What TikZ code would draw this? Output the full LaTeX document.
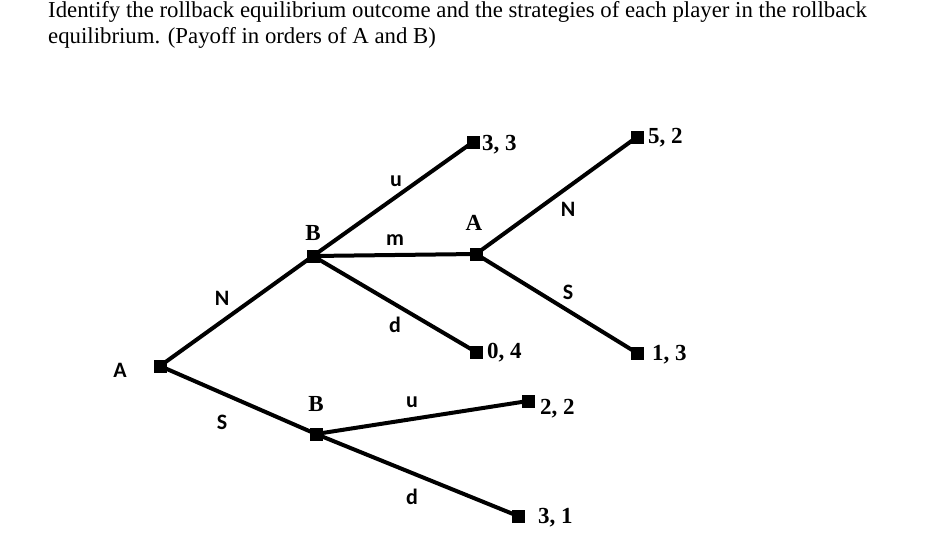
\documentclass[tikz,border=0pt]{standalone}
\usepackage{fontspec}
\setmainfont{Liberation Serif}
\setsansfont{Carlito}
\begin{document}
\begin{tikzpicture}[x=1pt,y=-1pt,
  sq/.style={fill=black,minimum size=13pt,inner sep=0pt,outer sep=0pt},
  br/.style={line width=4pt},
  el/.style={font=\sffamily\bfseries\fontsize{22}{24}\selectfont,inner sep=1pt},
  pay/.style={font=\bfseries\fontsize{23}{25}\selectfont,anchor=west,inner sep=0pt},
  pl/.style={font=\bfseries\fontsize{23}{25}\selectfont,inner sep=0pt}]
\useasboundingbox (0,0) rectangle (931,544);
\node[anchor=north west,align=left,inner sep=0pt,font=\fontsize{22.8}{26}\selectfont] (title) at (48,1)
 {Identify the rollback equilibrium outcome and the strategies of each player in the rollback\\equilibrium. (Payoff in orders of A and B)};
\node[sq] (a) at (160,366) {};
\node[sq] (b1) at (313,256) {};
\node[sq] (b2) at (316,434) {};
\node[sq] (t33) at (473,142) {};
\node[sq] (a2) at (476,254) {};
\node[sq] (t04) at (476,352) {};
\node[sq] (t52) at (637,137) {};
\node[sq] (t13) at (637,353) {};
\node[sq] (t22) at (528,401) {};
\node[sq] (t31) at (518,516) {};
\draw[br] (a.center)--(b1.center) (a.center)--(b2.center)
 (b1.center)--(t33.center) (b1.center)--(a2.center) (b1.center)--(t04.center)
 (a2.center)--(t52.center) (a2.center)--(t13.center)
 (b2.center)--(t22.center) (b2.center)--(t31.center);
\node[el] (la) at (120,370) {A};
\node[pl] (lb1) at (313,233) {B};
\node[pl] (lb2) at (316,404) {B};
\node[pl] (la2) at (474,223) {A};
\node[pay] (p33) at (482,145) {3, 3};
\node[pay] (p04) at (487,353) {0, 4};
\node[pay] (p52) at (648,138) {5, 2};
\node[pay] (p13) at (652,355) {1, 3};
\node[pay] (p22) at (540,409) {2, 2};
\node[pay] (p31) at (538,518) {3, 1};
\node[el] (eN) at (222,298) {N};
\node[el] (eS) at (222,422) {S};
\node[el] (eu1) at (396,181) {u};
\node[el] (em) at (395,240) {m};
\node[el] (ed1) at (395,325) {d};
\node[el] (eN2) at (568,209) {N};
\node[el] (eS2) at (568,292) {S};
\node[el] (eu2) at (412,402) {u};
\node[el] (ed2) at (412,497) {d};
\end{tikzpicture}
\end{document}
